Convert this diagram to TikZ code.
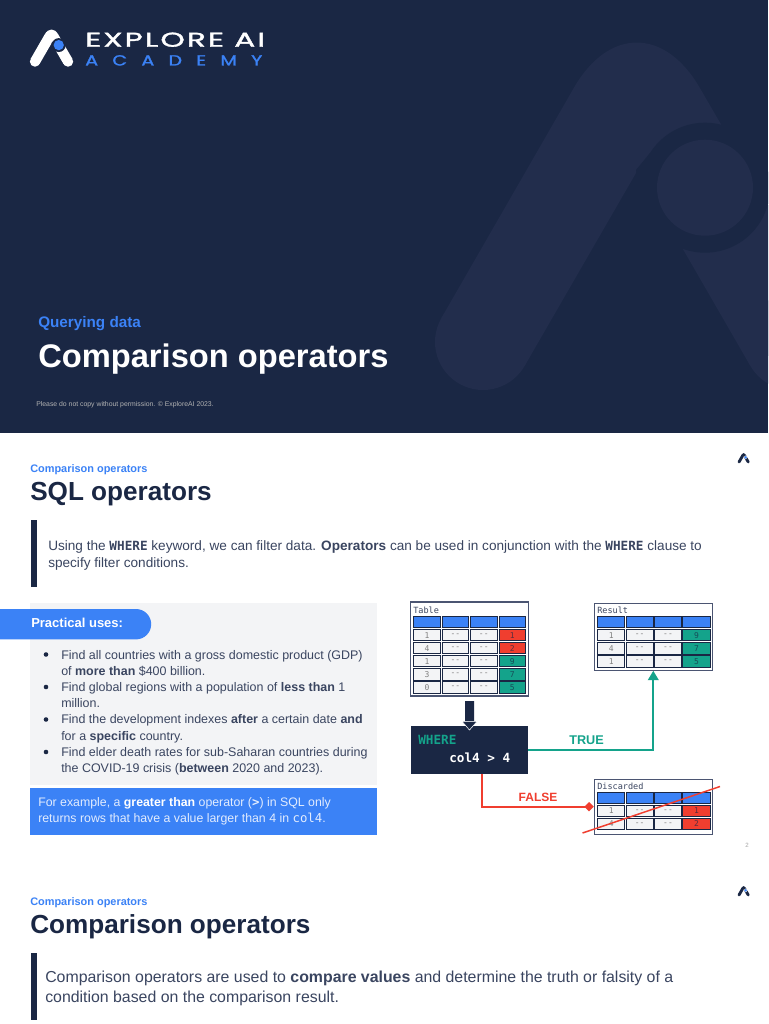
\documentclass[tikz,border=0pt]{standalone}
\usepackage{fontspec}
\usepackage{graphicx}
\setmainfont{Liberation Sans}
\setmonofont{DejaVu Sans Mono}
\newfontfamily\logofont[LetterSpace=7,FakeBold=1.5]{Poppins}
\newfontfamily\academyfont[LetterSpace=75,FakeBold=1.5]{Poppins}
\usetikzlibrary{arrows.meta}
\definecolor{navy}{HTML}{1A2744}
\definecolor{ghost}{HTML}{222D4C}
\definecolor{blue}{HTML}{3B82F6}
\definecolor{panel}{HTML}{F3F4F6}
\definecolor{teal}{HTML}{14A38B}
\definecolor{red}{HTML}{F03E2F}
\definecolor{slate}{HTML}{4B5572}
\definecolor{body}{HTML}{3A4560}
\tikzset{
	txt/.style={anchor=base west,inner sep=0pt,text=body,font=\fontsize{10.2}{12}\selectfont},
	sheetbox/.style={draw=slate,line width=0.8pt,fill=white,inner sep=0pt},
	cell/.style={draw=navy,line width=0.75pt,inner sep=0pt,minimum height=8.4pt,text=gray,font=\ttfamily\fontsize{6}{6}\selectfont},
	sheetname/.style={anchor=west,inner sep=0pt,text=body,font=\ttfamily\fontsize{6.4}{7}\selectfont},
	uses/.style={txt,font=\fontsize{9.35}{12}\selectfont},
	examples/.style={txt,text=white!85!blue,font=\fontsize{9.25}{12}\selectfont},
	leads/.style={txt,font=\fontsize{11.9}{14}\selectfont},
	bar/.style={fill=navy,inner sep=0pt,minimum width=4.2pt,minimum height=49.8pt}
}
% the A mark: #1,#2 left foot, #3 size, #4 legs, #5 dot, #6 ground
\newcommand{\amark}[6]{
	\begin{scope}[shift={(#1,#2)},x=#3*0.75pt,y=-#3*0.75pt]
		\fill[#4] (-41.6,-24) [rounded corners=#3*94pt] -- (153.5,-363) [sharp corners] -- (350.6,-24) -- (267.4,24) -- (154.5,-171.6) -- (41.6,24) -- cycle;
		\fill[#4] (0,0) circle (48);
		\fill[#4] (309,0) circle (48);
		\fill[#6] (222,-154.3) circle (65);
		\fill[#6] (167,-189) -- (153,-172) -- (157,-150) -- (200,-150) -- cycle;
		\fill[#5] (222,-154.3) circle (48);
	\end{scope}
}
% a small result table: #1 name, #2,#3 centre of first header cell, #4 cell width, #5 rows
\newcommand{\sheet}[5]{
	\foreach \c in {0,1,2,3}
		\node[cell,fill=blue,minimum width=#4] (#1-0-\c) at ({#2+28.4*\c},#3) {};
	\foreach \first/\val/\shade [count=\r] in {#5}{
		\node[cell,fill=panel,minimum width=#4] (#1-\r-0) at (#2,{#3+13.1*\r}) {\first};
		\node[cell,fill=panel,minimum width=#4] (#1-\r-1) at ({#2+28.4},{#3+13.1*\r}) {--};
		\node[cell,fill=panel,minimum width=#4] (#1-\r-2) at ({#2+56.8},{#3+13.1*\r}) {--};
		\node[cell,fill=\shade,minimum width=#4,text=navy!70!\shade] (#1-\r-3) at ({#2+85.2},{#3+13.1*\r}) {\val};
	}
}
\begin{document}
\begin{tikzpicture}[x=0.75pt,y=-0.75pt]
	\useasboundingbox (0,0) rectangle (768,1024);
	\fill[white] (0,0) rectangle (768,1024);
	\fill[navy] (0,0) rectangle (768,433);
	\begin{scope}
		\clip (0,0) rectangle (768,433);
		\amark{483}{342}{1}{ghost}{ghost}{navy}
	\end{scope}
	\amark{35}{61.6}{0.107}{white}{blue}{navy}
	\node[anchor=base west,inner sep=0pt,text=white,font=\logofont\fontsize{15}{16}\selectfont] (brand) at (85,46.7) {\scalebox{1.55}[1]{EXPLORE AI}};
	\node[anchor=base west,inner sep=0pt,text=blue,font=\academyfont\fontsize{11}{12}\selectfont] (academy) at (85,65.5) {\scalebox{1.3}[1]{ACADEMY}};

	\node[txt,text=blue,font=\bfseries\fontsize{11.45}{12}\selectfont] (topic) at (38,327) {Querying data};
	\node[txt,text=white,font=\bfseries\fontsize{24.5}{28}\selectfont] (title) at (38,367) {Comparison operators};
	\node[txt,text=gray!60,font=\fontsize{5.15}{6}\selectfont] (notice) at (36,406) {Please do not copy without permission. © ExploreAI 2023.};

	\amark{739}{462}{0.03}{navy}{blue}{white}
	\node[txt,text=blue,font=\bfseries\fontsize{8.2}{9}\selectfont] (kicker1) at (30,472) {Comparison operators};
	\node[txt,text=navy,font=\bfseries\fontsize{19.6}{24}\selectfont] (head1) at (30,500) {SQL operators};
	\node[bar] (bar1) at (33.8,553.3) {};
	\node[txt] (intro1) at (48,550) {Using the {\ttfamily\bfseries\fontsize{9.5}{12}\selectfont WHERE} keyword, we can filter data. \textbf{Operators} can be used in conjunction with the {\ttfamily\bfseries\fontsize{9.5}{12}\selectfont WHERE} clause to};
	\node[txt] (intro2) at (48,567) {specify filter conditions.};

	\fill[panel] (30,603) rectangle (377,785);
	\fill[blue] (0,609) -- (136,609) arc (-90:90:15.2) -- (0,639.4) -- cycle;
	\node[txt,text=white,font=\bfseries\fontsize{9.75}{12}\selectfont] (practical) at (31,627) {Practical uses:};
	\foreach \y in {654.5,687,719.5,752}
		\fill[navy] (46,\y) circle (2.3);
	\node[uses] (use1) at (61,659) {Find all countries with a gross domestic product (GDP)};
	\node[uses] (use2) at (61,675.2) {of \textbf{more than} \$400 billion.};
	\node[uses] (use3) at (61,691.4) {Find global regions with a population of \textbf{less than} 1};
	\node[uses] (use4) at (61,707.6) {million.};
	\node[uses] (use5) at (61,723.8) {Find the development indexes \textbf{after} a certain date \textbf{and}};
	\node[uses] (use6) at (61,740) {for a \textbf{specific} country.};
	\node[uses] (use7) at (61,756.2) {Find elder death rates for sub-Saharan countries during};
	\node[uses] (use8) at (61,772.4) {the COVID-19 crisis (\textbf{between} 2020 and 2023).};

	\fill[blue] (30,788) rectangle (377,834.5);
	\node[examples] (example1) at (38,806.5) {For example, a \textbf{\textcolor{white}{greater than}} operator ({\ttfamily\bfseries >}) in SQL only};
	\node[examples] (example2) at (38,822.7) {returns rows that have a value larger than 4 in {\ttfamily col4}.};

	\node[sheetbox,minimum width=88.5pt,minimum height=70.5pt] (table) at (469.7,649) {};
	\node[sheetname] (tablename) at (413,610) {Table};
	\sheet{tab}{427}{622}{19.8pt}{1/1/red,4/2/red,1/9/teal,3/7/teal,0/5/teal}

	\node[sheetbox,minimum width=88.5pt,minimum height=50.2pt] (result) at (653.3,636.8) {};
	\node[sheetname] (resultname) at (597,610) {Result};
	\sheet{res}{611.2}{622.2}{20.4pt}{1/9/teal,4/7/teal,1/5/teal}

	\node[sheetbox,minimum width=88.5pt,minimum height=41pt] (discard) at (653.3,806.7) {};
	\node[sheetname] (discardname) at (597,786) {Discarded};
	\sheet{dis}{611.2}{797.8}{20.4pt}{1/1/red,4/2/red}

	\node[fill=navy,inner sep=0pt,minimum width=88pt,minimum height=35.6pt] (where) at (469.5,749.8) {};
	\node[anchor=west,inner sep=0pt,text=teal,font=\ttfamily\bfseries\fontsize{9.5}{11}\selectfont] (keyword) at (418,740.3) {WHERE};
	\node[anchor=west,inner sep=0pt,text=white,font=\ttfamily\bfseries\fontsize{9.5}{11}\selectfont] (clause) at (449,757.5) {col4 > 4};

	\draw[navy,line width=6.7pt,shorten <=3.5pt,shorten >=-3.5pt,-{Triangle[length=7pt,width=12pt,color=white,fill=navy,line width=0.4pt]}] (table.south) -- (where.north);

	\draw[teal,line width=1.25pt,-{Triangle[length=7pt,width=8pt]}] (where.east) -| (result.south);
	\node[inner sep=0pt,text=teal,font=\bfseries\fontsize{9.5}{12}\selectfont] (truelabel) at (586.5,740) {TRUE};

	\coordinate (falsestart) at (482,773.5);
	\draw[red,line width=1.25pt,-{Diamond[length=7pt,width=7pt]}] (falsestart) |- (discard.west);
	\node[inner sep=0pt,text=red,font=\bfseries\fontsize{9}{12}\selectfont] (falselabel) at (538,797) {FALSE};

	\coordinate (crossa) at (582.5,833);
	\coordinate (crossb) at (720,786.5);
	\draw[red,line width=1.1pt] (crossa) -- (crossb);

	\node[txt,text=gray!70,font=\fontsize{4.6}{5}\selectfont] (pageno) at (745,847) {2};

	\amark{739}{895}{0.03}{navy}{blue}{white}
	\node[txt,text=blue,font=\bfseries\fontsize{8.2}{9}\selectfont] (kicker2) at (30,905) {Comparison operators};
	\node[txt,text=navy,font=\bfseries\fontsize{19.6}{24}\selectfont] (head2) at (30,933) {Comparison operators};
	\node[bar] (bar2) at (33.8,986.3) {};
	\node[leads] (lead1) at (45,982) {Comparison operators are used to \textbf{compare values} and determine the truth or falsity of a};
	\node[leads] (lead2) at (45,1002) {condition based on the comparison result.};
\end{tikzpicture}
\end{document}
